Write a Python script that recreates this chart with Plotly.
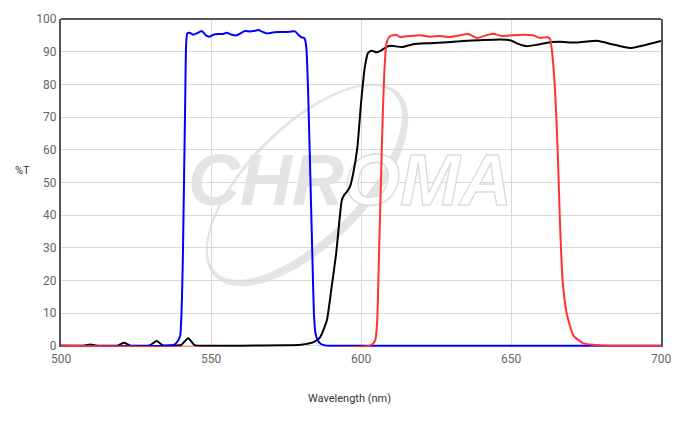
import numpy as np
import plotly.graph_objects as go

# ---- data ----
blue_wl = [500, 536, 537.5, 538.6, 539.7, 540.2, 540.6, 541.0, 541.4, 541.7, 542.1, 542.8, 544.1, 545.2,
           546.9, 548.3, 549.4, 550.8, 552.4, 554.1, 555.2, 556.9, 558.6, 560.2, 561.3, 563.0, 564.7,
           565.8, 566.9, 568.6, 570.2, 571.9, 574.1, 576.3, 578.0, 579.1, 580.2, 580.8, 581.3, 581.8,
           582.3, 582.8, 583.3, 583.8, 584.3, 584.8, 585.5, 586.5, 588, 590, 700]
blue_t = [0, 0, 0.2, 1, 3, 10.7, 26, 50, 75, 92, 95.6, 95.8, 95.2, 95.6,
          96.3, 95.0, 94.6, 95.2, 95.4, 95.4, 95.8, 95.2, 95.0, 95.8, 96.3, 96.2, 96.4,
          96.6, 96.2, 95.6, 95.8, 96.0, 96.0, 96.1, 96.2, 95.2, 94.4, 94.3, 93.8, 91,
          80, 63, 45, 27, 10, 4, 1.8, 0.6, 0.1, 0, 0]

black_wl = [500, 505, 508, 509.7, 511.5, 514, 519, 521, 523, 529.5, 531.9, 534, 536, 540, 542.4, 544.5,
            547, 560, 575, 580, 584, 586.3, 588.6, 590.2, 591.7, 592.8, 593.6, 594.3, 595.2, 596.3,
            597.4, 598.8, 600, 601.3, 602.4, 603.6, 605.2, 606.9, 608.6, 610.2, 613.6, 617.4, 623,
            628.6, 634.1, 639.7, 646.3, 649.7, 652.4, 655.2, 658.6, 663, 666.3, 671.9, 679.1, 683.6,
            689.7, 694.1, 700]
black_t = [0, 0, 0.1, 0.4, 0.1, 0, 0.1, 0.9, 0.1, 0.1, 1.4, 0.1, 0.1, 0.2, 2.3, 0.2,
           0, 0, 0.1, 0.3, 1, 2.5, 7.7, 17.9, 28, 38.3, 44.5, 46, 47, 48.6,
           52.7, 60.8, 74.1, 85.4, 89.7, 90.3, 89.8, 90.5, 91.5, 91.8, 91.4, 92.3, 92.6,
           92.9, 93.3, 93.5, 93.7, 93.5, 92.4, 91.7, 92.1, 92.9, 93.0, 92.8, 93.3, 92.3,
           91.1, 91.9, 93.3]

red_wl = [500, 603, 604.7, 605.4, 606.0, 606.6, 607.2, 608.0, 608.6, 609.7, 611.9, 613, 616.3, 619.7,
          623, 626.3, 629.7, 633, 635.8, 638.6, 642.4, 644.1, 646.9, 650.2, 654.1, 657.4, 659.7,
          661.9, 663.0, 663.4, 664.0, 664.7, 665.6, 666.3, 667.2, 668.6, 670.8, 674.1, 678.5, 682, 700]
red_t = [0, 0, 1.5, 7.7, 28, 48.6, 69, 87.4, 93, 94.8, 95.1, 94.5, 94.8, 95.0,
         94.6, 94.8, 94.5, 95.0, 95.4, 94.2, 95.2, 95.5, 94.8, 95.0, 95.2, 95.0, 94.2,
         94.4, 94.0, 92, 87, 78, 58.8, 38.3, 19.9, 9.7, 3.1, 0.7, 0.2, 0, 0]

x_ticks = [500, 550, 600, 650, 700]
y_ticks = [0, 10, 20, 30, 40, 50, 60, 70, 80, 90, 100]

# ---- figure geometry (pixels); page body adds an 8px offset ----
OFF = 8
W, H = 698 - OFF, 429 - OFF
SL, ST = 61, 19          # plot area top-left on screen
PW, PH = 600, 328
L, T = SL - OFF, ST - OFF
R = W - L - PW
B = H - T - PH


def px2paper(px, py):
    return (px - SL) / PW, (ST + PH - py) / PH


def ellipse_path(cx, cy, a, b, ang_deg, reverse=False, n=90):
    th = np.deg2rad(ang_deg)
    ts = np.linspace(0, 2 * np.pi, n, endpoint=False)
    if reverse:
        ts = ts[::-1]
    pts = []
    for t in ts:
        px = cx + a * np.cos(t) * np.cos(th) + b * np.sin(t) * np.sin(th)
        py = cy - a * np.cos(t) * np.sin(th) + b * np.sin(t) * np.cos(th)
        pts.append(px2paper(px, py))
    return "M " + " L ".join(f"{x:.4f},{y:.4f}" for x, y in pts) + " Z"


fig = go.Figure()

# watermark text (drawn first so curves sit above it)
wm_col = "#e4e4e4"
fig.add_trace(go.Scatter(
    x=[596.3], y=[48.5], mode="text",
    text=['CHR<span style="fill:#ffffff;stroke:#dadada;stroke-width:1.3px">OMA</span>'],
    textfont=dict(family="Liberation Sans", size=72, color=wm_col, weight="bold", style="italic"),
    textposition="middle center", hoverinfo="skip", showlegend=False))

fig.add_trace(go.Scatter(x=black_wl, y=black_t, mode="lines", line=dict(color="#000000", width=2),
                         line_shape="spline", line_smoothing=0.5, showlegend=False))
fig.add_trace(go.Scatter(x=blue_wl, y=blue_t, mode="lines", line=dict(color="#0000ff", width=2),
                         line_shape="spline", line_smoothing=0.5, showlegend=False))
fig.add_trace(go.Scatter(x=red_wl, y=red_t, mode="lines", line=dict(color="#ff3333", width=2),
                         line_shape="spline", line_smoothing=0.5, showlegend=False))

# watermark swoosh ring
cx, cy = 307, 185
outer = ellipse_path(cx, cy, 130, 60, 45)
e = 3
inner = ellipse_path(cx - e * 0.707, cy - e * 0.707, 126, 54, 45, reverse=True)
fig.add_shape(type="path", path=outer + " " + inner, xref="paper", yref="paper",
              fillcolor=wm_col, line=dict(width=0), layer="below")

# top border
fig.add_shape(type="line", xref="paper", yref="paper", x0=0, x1=1, y0=1, y1=1,
              line=dict(color="#555555", width=2), layer="above")

fig.update_layout(
    width=W, height=H,
    margin=dict(l=L, r=R, t=T, b=B, autoexpand=False),
    paper_bgcolor="white", plot_bgcolor="white",
    font=dict(family="Roboto", size=12, color="#666666"),
    xaxis=dict(range=[500, 700], tickvals=x_ticks, ticks="", showgrid=True, automargin=False,
               gridcolor="#d9d9d9", gridwidth=1, zeroline=False, showline=False,
               ticklabelstandoff=3,
               tickfont=dict(size=12, color="#666666")),
    yaxis=dict(range=[-0.4, 100], tickvals=y_ticks, ticks="", showgrid=True, automargin=False,
               gridcolor="#d9d9d9", gridwidth=1, zeroline=False,
               showline=True, linecolor="#555555", linewidth=2, mirror=True,
               tickfont=dict(size=12, color="#666666")),
    annotations=[
        dict(text="%T", xref="paper", yref="paper", x=px2paper(22, 0)[0], y=px2paper(0, 170)[1],
             showarrow=False, xanchor="center", yanchor="middle",
             font=dict(family="Roboto", size=11, color="#333333")),
        dict(text="Wavelength (nm)", xref="paper", yref="paper", x=px2paper(349.5, 0)[0],
             y=px2paper(0, 398)[1], showarrow=False, xanchor="center", yanchor="middle",
             font=dict(family="Roboto", size=11, color="#333333")),
    ],
)

fig.write_html("out.html")
